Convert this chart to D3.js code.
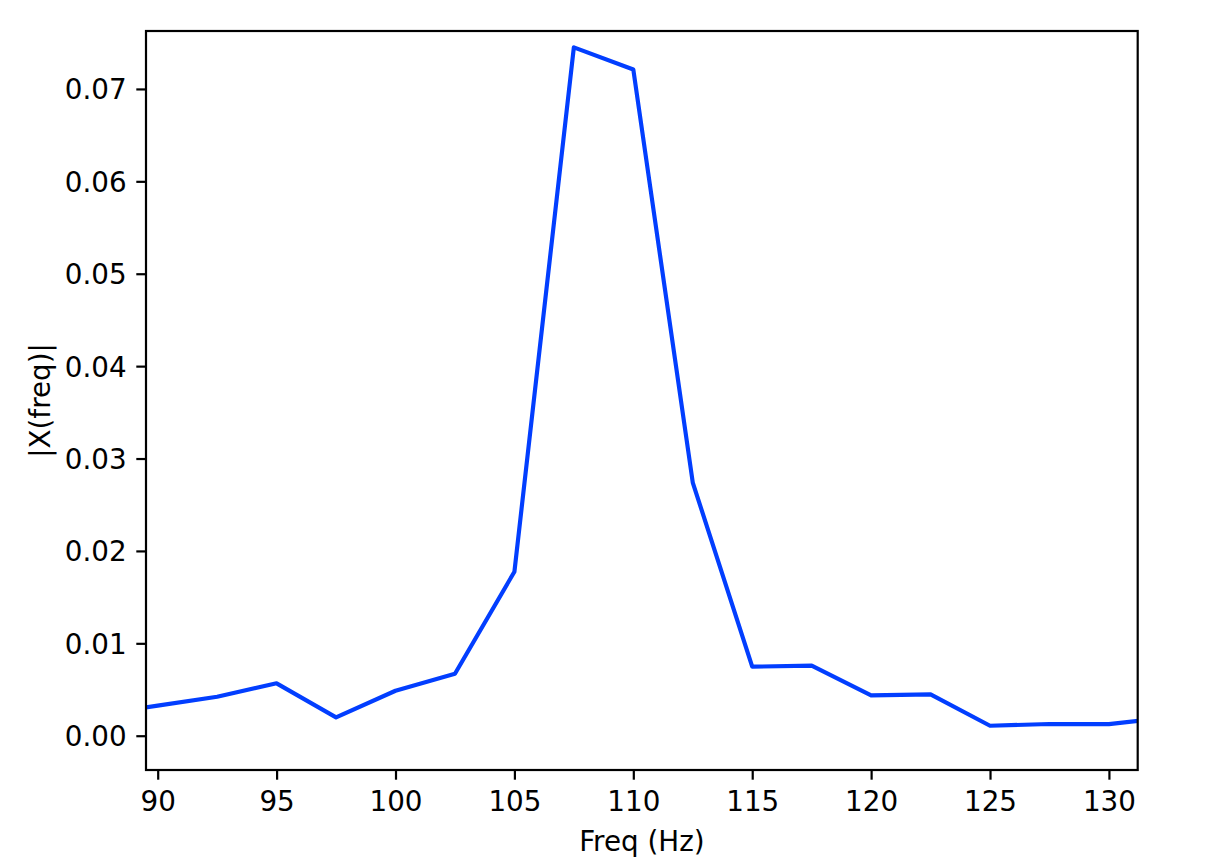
<!DOCTYPE html>
<html>
<head>
<meta charset="utf-8">
<script src="https://cdn.jsdelivr.net/npm/d3@7"></script>
<style>
  body { margin: 0; background: #fff; }
  svg text { font-family: "DejaVu Sans", sans-serif; }
</style>
</head>
<body>
<svg id="drawing_region"></svg>
<script>
// spectrum around the peak, 2.5 Hz bins
const freqs = [87.5, 90, 92.5, 95, 97.5, 100, 102.5, 105, 107.5, 110, 112.5,
               115, 117.5, 120, 122.5, 125, 127.5, 130, 132.5];
const mags = [0.0023, 0.00326, 0.00422, 0.00567, 0.00199, 0.00487, 0.00671, 0.01775,
              0.0745, 0.0721, 0.0274, 0.00747, 0.00758, 0.00437, 0.00448,
              0.00108, 0.00127, 0.00125, 0.0020];
const xTicks = [90, 95, 100, 105, 110, 115, 120, 125, 130];
const yTicks = [0, 0.01, 0.02, 0.03, 0.04, 0.05, 0.06, 0.07];

const config = {
    width: 1220,
    height: 866,
    margin: {top: 31, right: 82.3, bottom: 96, left: 146}
};

const data = freqs.map((f, i) => ({x: f, y: mags[i]}));

const svg = d3.select('#drawing_region')
    .attr('width', config.width)
    .attr('height', config.height);

const inner_width = config.width - config.margin.left - config.margin.right;
const inner_height = config.height - config.margin.top - config.margin.bottom;

const chart = svg.append('g')
    .attr('transform', `translate(${config.margin.left}, ${config.margin.top})`);

const xscale = d3.scaleLinear()
    .domain([89.508, 131.21])
    .range([0, inner_width]);

const yscale = d3.scaleLinear()
    .domain([-0.00371, 0.07627])
    .range([inner_height, 0]);

const fontSize = 27.78;
const tickLen = 9.7;

// line, clipped to the axes box
chart.append('clipPath').attr('id', 'clip')
    .append('rect')
    .attr('width', inner_width)
    .attr('height', inner_height);

const line = d3.line()
    .x(d => xscale(d.x))
    .y(d => yscale(d.y));

chart.append('path')
    .attr('clip-path', 'url(#clip)')
    .attr('d', line(data))
    .attr('fill', 'none')
    .attr('stroke', '#023eff')
    .attr('stroke-width', 4.17)
    .attr('stroke-linejoin', 'round')
    .attr('stroke-linecap', 'square');

// axes
const xaxis = d3.axisBottom(xscale)
    .tickValues(xTicks)
    .tickFormat(d3.format('d'))
    .tickSize(tickLen)
    .tickSizeOuter(0)
    .tickPadding(9.7);

const yaxis = d3.axisLeft(yscale)
    .tickValues(yTicks)
    .tickFormat(d3.format('.2f'))
    .tickSize(tickLen)
    .tickSizeOuter(0)
    .tickPadding(9.7);

const xg = chart.append('g')
    .attr('transform', `translate(0, ${inner_height})`)
    .call(xaxis);
xg.selectAll('text').attr('y', 41).attr('dy', 0);

const yg = chart.append('g').call(yaxis);
yg.selectAll('text').attr('dy', '0.36em');

[xg, yg].forEach(g => {
    g.select('.domain').remove();
    g.selectAll('line').attr('stroke', '#000').attr('stroke-width', 2.2);
    g.selectAll('text')
        .attr('fill', '#000')
        .style('font-size', fontSize + 'px')
        .style('font-family', '"DejaVu Sans", sans-serif');
});

// frame
chart.append('rect')
    .attr('width', inner_width)
    .attr('height', inner_height)
    .attr('fill', 'none')
    .attr('stroke', '#000')
    .attr('stroke-width', 2.2)
    .attr('stroke-linejoin', 'miter');

// labels
svg.append('text')
    .attr('x', config.margin.left + inner_width / 2)
    .attr('y', 851)
    .attr('text-anchor', 'middle')
    .style('font-size', fontSize + 'px')
    .text('Freq (Hz)');

svg.append('text')
    .attr('transform', `translate(50, ${config.margin.top + inner_height / 2}) rotate(-90)`)
    .attr('text-anchor', 'middle')
    .style('font-size', fontSize + 'px')
    .text('|X(freq)|');
</script>
</body>
</html>
